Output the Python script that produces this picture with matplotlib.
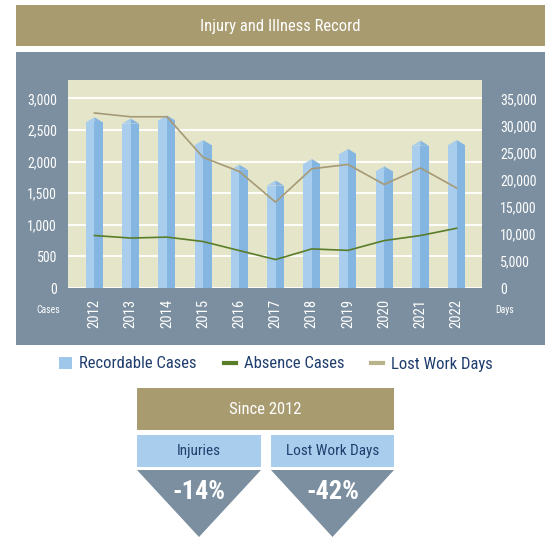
import matplotlib
matplotlib.use("Agg")
import matplotlib.pyplot as plt
from matplotlib.patches import Rectangle, Polygon, Patch
from matplotlib.lines import Line2D
from matplotlib import font_manager

years = ["2012", "2013", "2014", "2015", "2016", "2017", "2018", "2019", "2020", "2021", "2022"]
recordable_cases = [2700, 2680, 2730, 2340, 1950, 1700, 2040, 2200, 1925, 2330, 2340]
absence_cases = [830, 790, 805, 735, 592, 450, 618, 595, 750, 830, 945]
lost_work_days = [32300, 31600, 31600, 24100, 21500, 15850, 22000, 22800, 19100, 22150, 18450]
left_ticks = [0, 500, 1000, 1500, 2000, 2500, 3000]
right_ticks = [0, 5000, 10000, 15000, 20000, 25000, 30000, 35000]
summary_labels = ["Injuries", "Lost Work Days"]
summary_values = ["-14%", "-42%"]

names = {f.name for f in font_manager.fontManager.ttflist}
NARROW = "Roboto"
for cand in ["Roboto Condensed", "Liberation Sans Narrow", "Open Sans Condensed", "Roboto"]:
    if cand in names:
        NARROW = cand
        break
plt.rcParams["font.family"] = [NARROW, "DejaVu Sans"]

W, H = 555, 556
fig = plt.figure(figsize=(W / 100, H / 100), dpi=100)
fig.patch.set_facecolor("white")

TAN = "#a99b70"
SLATE = "#7b8fa0"
BG = "#e4e5c9"
LIGHT = "#a9cdec"
DARK = "#85b6e1"
NAVY = "#1f3e6e"
GREEN = "#5a7d2a"
LINE_TAN = "#a69a76"

def fx(x):
    return x / W

def fy(y):
    return 1 - y / H

def box(x0, y0, x1, y1, color):
    fig.patches.append(Rectangle((fx(x0), fy(y1)), fx(x1) - fx(x0), fy(y0) - fy(y1),
                                 transform=fig.transFigure, facecolor=color, edgecolor="none", zorder=-10))

# title band and panel
box(16, 5, 545, 46, TAN)
fig.text(fx(280), fy(26), "Injury and Illness Record", color="white", fontsize=12, ha="center", va="center")
box(16, 52, 545, 345, SLATE)

# chart axes
ax = fig.add_axes([fx(68), fy(288), fx(482) - fx(68), fy(80) - fy(288)])
ax.set_zorder(5)
ax.set_facecolor(BG)
ymax = 3290
ax.set_ylim(0, ymax)
ax.set_xlim(-0.73, 10.70)
for t in left_ticks:
    ax.axhline(t, color="white", lw=1.3, zorder=1)

x = list(range(len(years)))
bw = 0.47
tip = 80
body = [v - tip for v in recordable_cases]
ax.bar([i - bw / 4 for i in x], body, width=bw / 2, color=LIGHT, zorder=2, linewidth=0)
ax.bar([i + bw / 4 for i in x], body, width=bw / 2, color=DARK, zorder=2, linewidth=0)
for i, v in zip(x, recordable_cases):
    ax.add_patch(Polygon([(i - bw / 2, v - tip), (i, v), (i, v - tip)], closed=True,
                         facecolor=LIGHT, edgecolor="none", zorder=2))
    ax.add_patch(Polygon([(i, v - tip), (i, v), (i + bw / 2, v - tip)], closed=True,
                         facecolor=DARK, edgecolor="none", zorder=2))

ax.plot(x, absence_cases, color=GREEN, lw=1.2, zorder=4)

ax2 = ax.twinx()
ax2.set_zorder(6)
ax2.patch.set_visible(False)
ax2.set_ylim(0, ymax * 35000 / 3000)
ax2.plot(x, lost_work_days, color=LINE_TAN, lw=1.2, zorder=4)

for a in (ax, ax2):
    for s in a.spines.values():
        s.set_visible(False)
    a.tick_params(length=0, colors="white", labelsize=10)

ax.set_yticks(left_ticks)
ax.set_yticklabels([f"{t:,}" for t in left_ticks])
ax.tick_params(axis="y", pad=8)
ax2.set_yticks(right_ticks)
ax2.set_yticklabels([f"{t:,}" for t in right_ticks])
ax2.tick_params(axis="y", pad=13)
ax.set_xticks(x)
ax.set_xticklabels(years, rotation=90, fontsize=10.5)
ax.tick_params(axis="x", pad=8)

fig.text(fx(48), fy(310), "Cases", color="white", fontsize=7, ha="center", va="center")
fig.text(fx(505), fy(310), "Days", color="white", fontsize=7, ha="center", va="center")

# legend
handles = [Patch(facecolor="#9fc7ea", edgecolor="none"),
           Line2D([0], [0], color=GREEN, lw=3),
           Line2D([0], [0], color="#b9b38c", lw=3)]
leg = fig.legend(handles, ["Recordable Cases", "Absence Cases", "Lost Work Days"],
                 loc="center", bbox_to_anchor=(fx(276), fy(364)), ncol=3, frameon=False,
                 fontsize=12, handlelength=0.75, handleheight=0.75, handletextpad=0.45,
                 columnspacing=1.6)
for t in leg.get_texts():
    t.set_color(NAVY)

# summary
box(137, 388, 394, 430, TAN)
fig.text(fx(265), fy(409), "Since 2012", color="white", fontsize=12, ha="center", va="center")
cols = [(137, 261), (271, 394)]
for (x0, x1), lab, val in zip(cols, summary_labels, summary_values):
    box(x0, 435, x1, 467, LIGHT)
    fig.text(fx((x0 + x1) / 2), fy(451), lab, color=NAVY, fontsize=11, ha="center", va="center")
    fig.patches.append(Polygon([(fx(x0), fy(470)), (fx(x1), fy(470)), (fx((x0 + x1) / 2), fy(537))],
                               closed=True, transform=fig.transFigure, facecolor=SLATE, edgecolor="none",
                               zorder=-10))
    fig.text(fx((x0 + x1) / 2), fy(492), val, color="white", fontsize=19, fontweight="bold",
             ha="center", va="center")

fig.savefig("out.png", dpi=100)
